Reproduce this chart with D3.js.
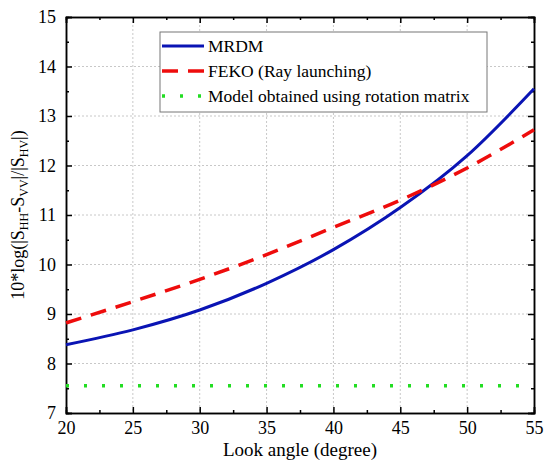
<!DOCTYPE html>
<html><head><meta charset="utf-8">
<script src="https://cdn.jsdelivr.net/npm/d3@7"></script>
<style>body{margin:0;background:#fff}</style>
</head><body><svg id="c"></svg>
<script>
const angles = [20, 25, 30, 35, 40, 45, 50, 55];
const mrdm = [8.38, 8.68, 9.08, 9.62, 10.3, 11.15, 12.2, 13.55];
const feko = [8.82, 9.25, 9.7, 10.2, 10.75, 11.3, 11.95, 12.72];
const rotation = [7.55, 7.55, 7.55, 7.55, 7.55, 7.55, 7.55, 7.55];
const xTicks = [20, 25, 30, 35, 40, 45, 50, 55];
const yTicks = [7, 8, 9, 10, 11, 12, 13, 14, 15];

const width = 550, height = 463;
const margin = { top: 17, right: 16, bottom: 50, left: 66 };
const iw = width - margin.left - margin.right;
const ih = height - margin.top - margin.bottom;
const font = "Liberation Serif, Times New Roman, serif";

const svg = d3.select("#c").attr("width", width).attr("height", height);
const g = svg.append("g").attr("transform", `translate(${margin.left},${margin.top})`);

const x = d3.scaleLinear().domain([20, 55]).range([0, iw]);
const y = d3.scaleLinear().domain([7, 15]).range([ih, 0]);

// grid
g.append("g").selectAll("line").data(xTicks.slice(1, -1)).join("line")
  .attr("x1", d => x(d)).attr("x2", d => x(d)).attr("y1", 0).attr("y2", ih)
  .attr("stroke", "#c8c8c8").attr("stroke-dasharray", "2,2");
g.append("g").selectAll("line").data(yTicks.slice(1, -1)).join("line")
  .attr("y1", d => y(d)).attr("y2", d => y(d)).attr("x1", 0).attr("x2", iw)
  .attr("stroke", "#c8c8c8").attr("stroke-dasharray", "2,2");

// axes with inward ticks
const minorX = d3.range(22.5, 55, 5), minorY = d3.range(7.5, 15, 1);
function styleAxis(sel) {
  sel.select(".domain").attr("stroke-width", 1.5);
  sel.selectAll(".tick line").attr("stroke-width", 1.5);
  sel.selectAll("text").attr("font-family", font).attr("font-size", 18).attr("fill", "#000");
}
g.append("g").attr("transform", `translate(0,${ih})`)
  .call(d3.axisBottom(x).tickValues(xTicks).tickSize(-6).tickPadding(8).tickFormat(d3.format("d")))
  .call(styleAxis);
g.append("g").attr("transform", `translate(0,${ih})`)
  .call(d3.axisBottom(x).tickValues(minorX).tickSize(-3).tickFormat("")).call(styleAxis);
g.append("g").call(d3.axisTop(x).tickValues(xTicks).tickSize(-6).tickFormat("")).call(styleAxis);
g.append("g").call(d3.axisTop(x).tickValues(minorX).tickSize(-3).tickFormat("")).call(styleAxis);
g.append("g")
  .call(d3.axisLeft(y).tickValues(yTicks).tickSize(-6).tickPadding(10).tickFormat(d3.format("d")))
  .call(styleAxis);
g.append("g").call(d3.axisLeft(y).tickValues(minorY).tickSize(-3).tickFormat("")).call(styleAxis);
g.append("g").attr("transform", `translate(${iw},0)`)
  .call(d3.axisRight(y).tickValues(yTicks).tickSize(-6).tickFormat("")).call(styleAxis);
g.append("g").attr("transform", `translate(${iw},0)`)
  .call(d3.axisRight(y).tickValues(minorY).tickSize(-3).tickFormat("")).call(styleAxis);

// series
const line = d3.line().x((d, i) => x(angles[i])).y(d => y(d)).curve(d3.curveMonotoneX);
const series = [
  { name: "MRDM", values: mrdm, color: "#0a14b4", dash: null, w: 3 },
  { name: "FEKO (Ray launching)", values: feko, color: "#ee0c0c", dash: "16,10", w: 3.5 },
  { name: "Model obtained using rotation matrix", values: rotation, color: "#22dd22", dash: "3,15", w: 3.5 }
];
series.forEach(s => {
  g.append("path").attr("d", line(s.values)).attr("fill", "none")
    .attr("stroke", s.color).attr("stroke-width", s.w)
    .attr("stroke-dasharray", s.dash);
});

// legend
const lg = g.append("g").attr("transform", `translate(${160 - margin.left},${32 - margin.top})`);
lg.append("rect").attr("width", 327).attr("height", 80).attr("fill", "#fff").attr("stroke", "#777");
series.forEach((s, i) => {
  const ly = 14 + i * 25;
  lg.append("line").attr("x1", 2).attr("x2", 44).attr("y1", ly).attr("y2", ly)
    .attr("stroke", s.color).attr("stroke-width", s.w).attr("stroke-dasharray", s.dash);
  lg.append("text").attr("x", 48).attr("y", ly + 6).text(s.name)
    .attr("font-family", font).attr("font-size", 17.5);
});

// axis titles
svg.append("text").attr("x", margin.left + iw / 2).attr("y", 456).attr("text-anchor", "middle")
  .attr("font-family", font).attr("font-size", 19).text("Look angle (degree)");
const yt = svg.append("text").attr("transform", `translate(24,${margin.top + ih / 2}) rotate(-90)`)
  .attr("text-anchor", "middle").attr("font-family", font).attr("font-size", 18);
yt.append("tspan").text("10*log(|S");
yt.append("tspan").text("HH").attr("font-size", 12).attr("dy", 4);
yt.append("tspan").text("-S").attr("dy", -4);
yt.append("tspan").text("VV").attr("font-size", 12).attr("dy", 4);
yt.append("tspan").text("|/|S").attr("dy", -4);
yt.append("tspan").text("HV").attr("font-size", 12).attr("dy", 4);
yt.append("tspan").text("|)").attr("dy", -4);
</script></body></html>
